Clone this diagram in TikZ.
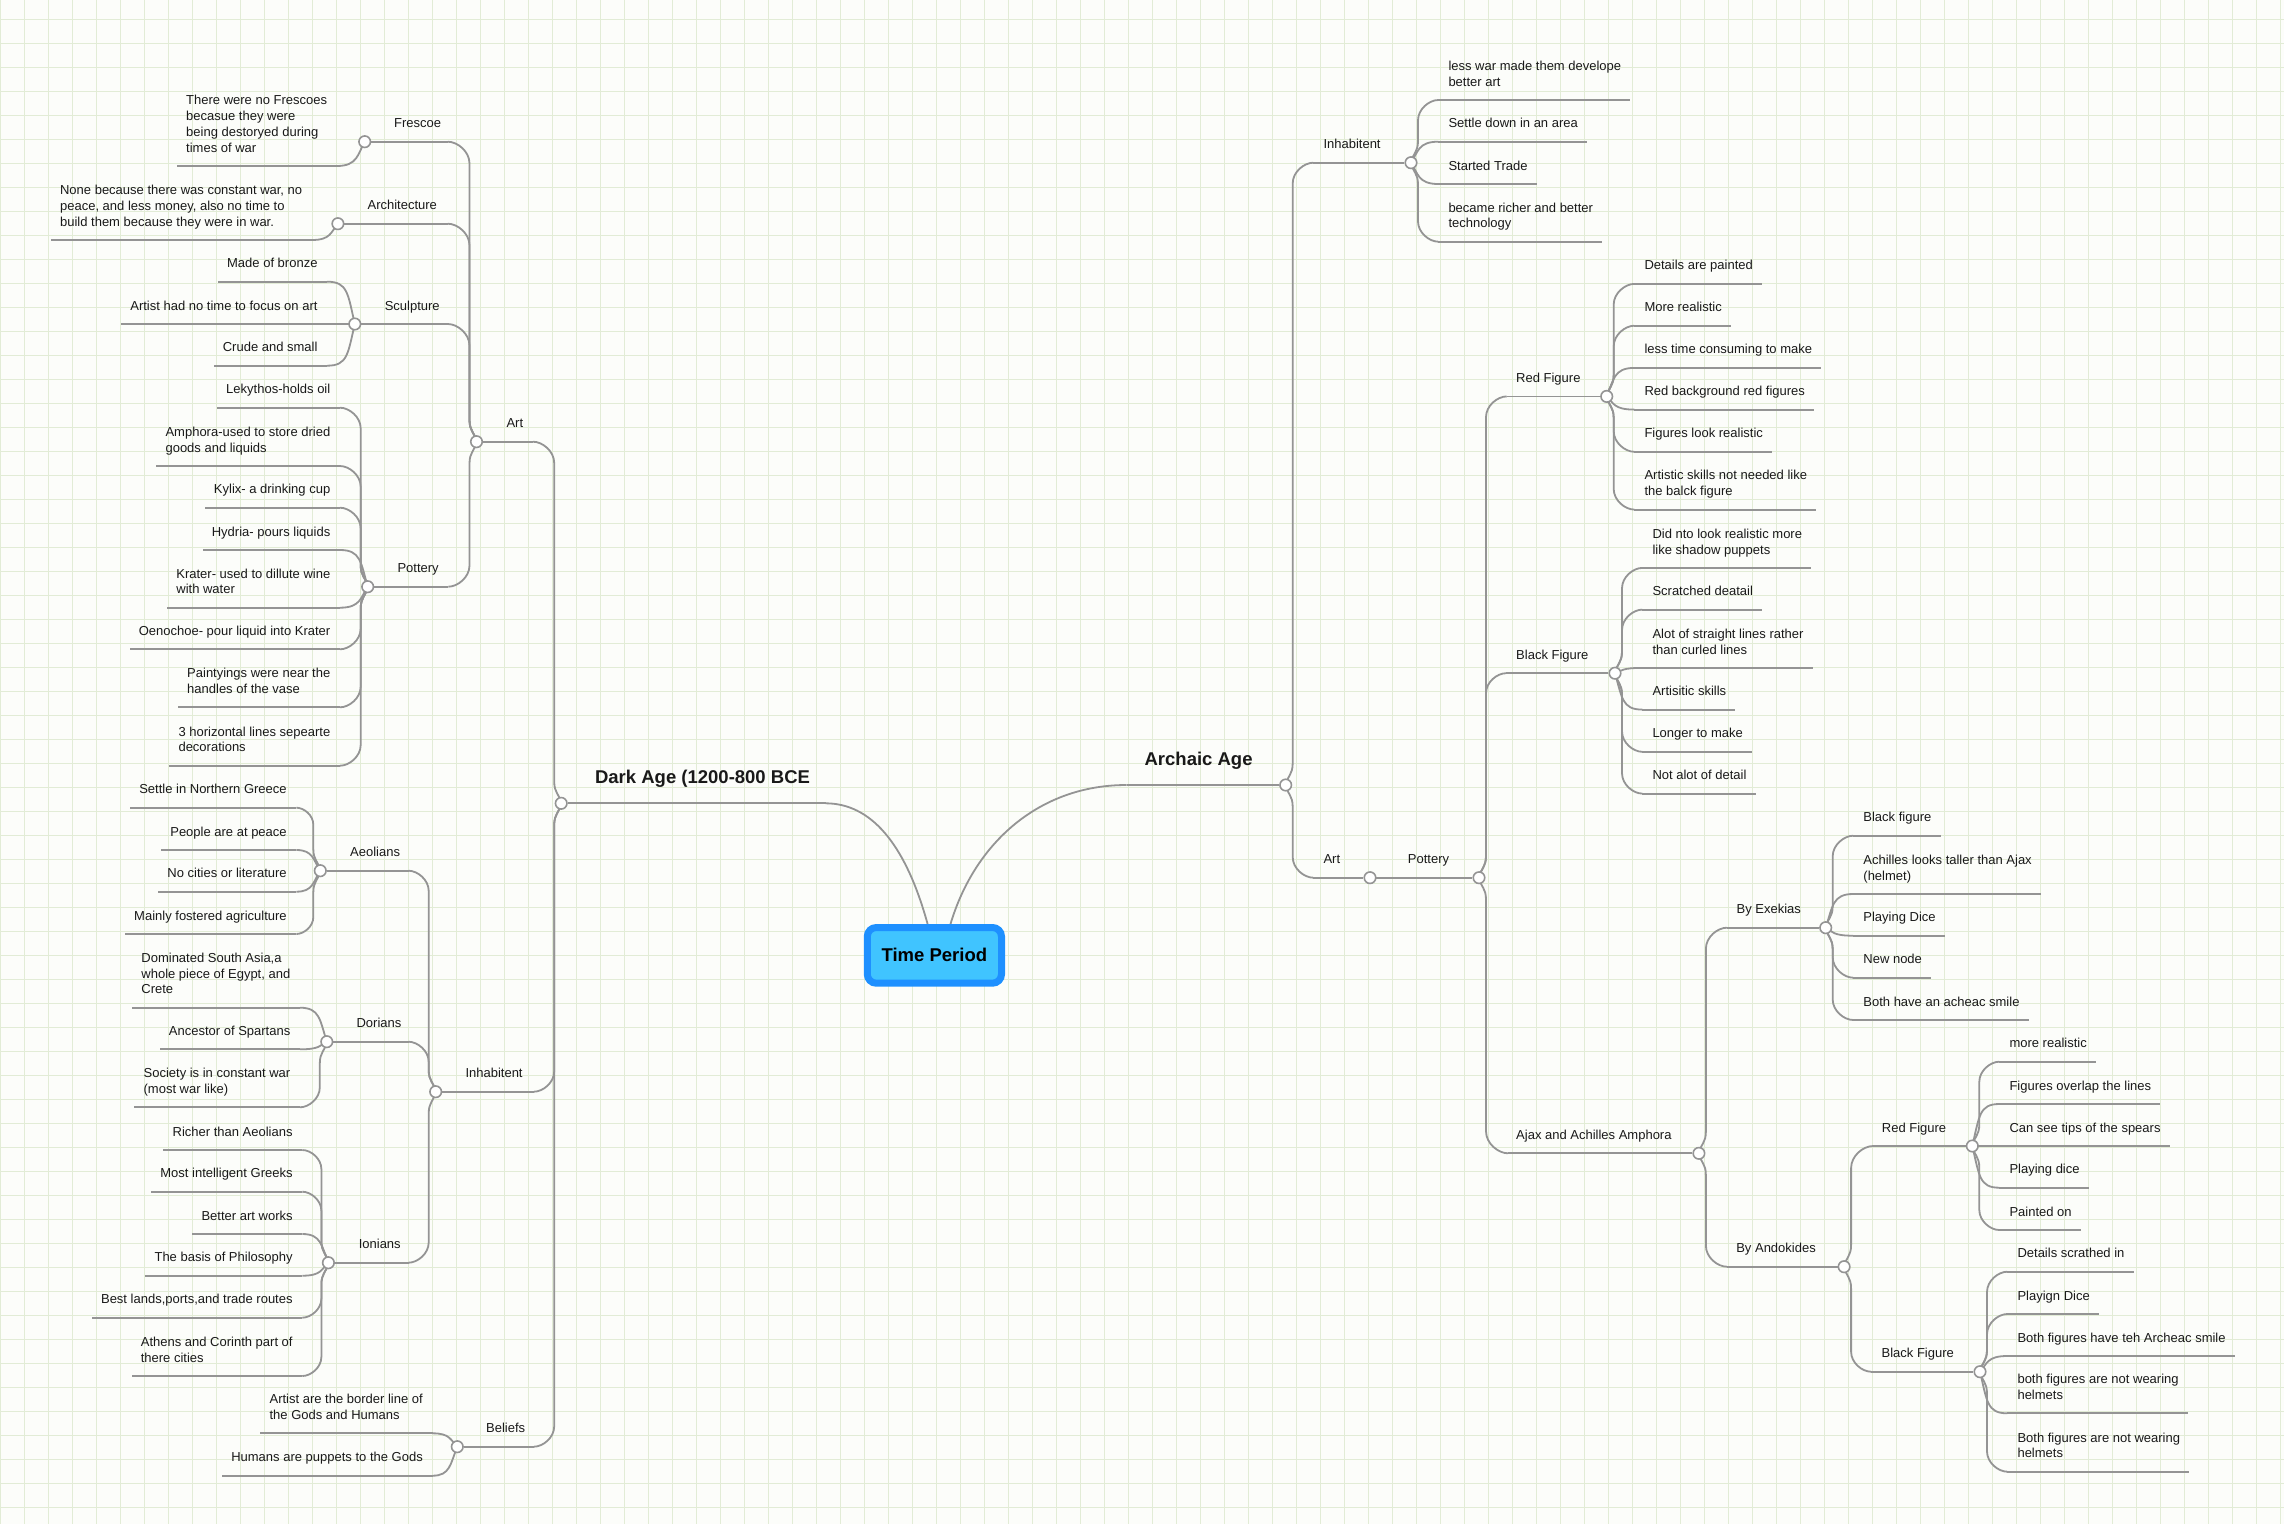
\documentclass[tikz,border=0pt]{standalone}
\usepackage{fontspec}
\setmainfont{Liberation Sans}
\usetikzlibrary{calc}
\pgfdeclarelayer{grid}\pgfdeclarelayer{lines}
\pgfsetlayers{grid,lines,main}
\definecolor{lgray}{RGB}{148,148,148}
\definecolor{gridc}{RGB}{226,236,214}
\definecolor{bgc}{RGB}{252,253,250}
\definecolor{tpborder}{RGB}{30,144,255}
\definecolor{tpfill}{RGB}{64,196,255}
\definecolor{txt}{RGB}{25,25,25}
\newcommand\fsN{\fontsize{13}{15.7}\selectfont}
\newcommand\fsT{\fontsize{18.5}{22}\selectfont\bfseries}
\newdimen\cnDa \newdimen\cnDb \newdimen\cnDc \newdimen\cnDd
\newcommand\conn[2]{%
  \pgfextractx{\cnDa}{\pgfpointanchor{#1}{center}}%
  \pgfextracty{\cnDb}{\pgfpointanchor{#1}{center}}%
  \pgfextractx{\cnDc}{\pgfpointanchor{#2}{center}}%
  \pgfextracty{\cnDd}{\pgfpointanchor{#2}{center}}%
  \pgfmathsetmacro\cnPx{\cnDa}%
  \pgfmathsetmacro\cnPy{\cnDb}%
  \pgfmathsetmacro\cnEx{\cnDc}%
  \pgfmathsetmacro\cnEy{\cnDd}%
  \pgfmathsetmacro\cnSx{(\cnEx>\cnPx)?1:-1}%
  \pgfmathsetmacro\cnH{\cnEy-\cnPy}%
  \pgfmathsetmacro\cnSy{(\cnH>0)?1:-1}%
  \pgfmathsetmacro\cnAh{abs(\cnH)}%
  \pgfmathsetmacro\cnVx{\cnPx+(\cnSx)*7}%
  \begin{pgfonlayer}{lines}%
  \ifdim\cnAh pt<50pt
    \pgfmathsetmacro\cnM{min(\cnAh/2,12)}%
    \pgfmathsetmacro\cnCy{\cnEy-(\cnSy)*\cnM}%
    \draw[conn] (#1.center) .. controls (\cnVx pt,\cnCy pt) and (\cnVx pt,\cnEy pt) .. (#2);
  \else
    \pgfmathsetmacro\cnR{abs(\cnEx-\cnVx)}%
    \pgfmathsetmacro\cnAx{\cnPx+(\cnSx)*2}%
    \pgfmathsetmacro\cnAy{\cnPy+(\cnSy)*10}%
    \pgfmathsetmacro\cnBy{\cnPy+(\cnSy)*22}%
    \pgfmathsetmacro\cnDy{\cnEy-(\cnSy)*\cnR}%
    \pgfmathsetmacro\cnFy{\cnEy-(\cnSy)*0.45*\cnR}%
    \pgfmathsetmacro\cnFx{\cnEx-(\cnSx)*0.45*\cnR}%
    \draw[conn] (#1.center) .. controls (\cnAx pt,\cnAy pt) and (\cnVx pt,\cnAy pt) .. (\cnVx pt,\cnBy pt) -- (\cnVx pt,\cnDy pt) .. controls (\cnVx pt,\cnFy pt) and (\cnFx pt,\cnEy pt) .. (#2);
  \fi
  \end{pgfonlayer}%
}
% parent, name, Ex, yU, text
\newcommand\leafL[5]{%
  \coordinate (#2-e) at (#3,#4);
  \node[leafl] (#2) at ({#3-9.5},{#4-9}) {#5\strut};
  \begin{pgfonlayer}{lines}\draw[uline] (#2-e) -- ([shift={(-9,9)}]#2.south west);\end{pgfonlayer}%
  \conn{#1-k}{#2-e}%
}
\newcommand\leafR[5]{%
  \coordinate (#2-e) at (#3,#4);
  \node[leafr] (#2) at ({#3+10},{#4-9}) {#5\strut};
  \begin{pgfonlayer}{lines}\draw[uline] (#2-e) -- ([shift={(9,9)}]#2.south east);\end{pgfonlayer}%
  \conn{#1-k}{#2-e}%
}
% parent, name, knob x, E x, yU, text x, text
\newcommand\topic[7]{%
  \node[knob] (#2-k) at (#3,#5) {};
  \coordinate (#2-e) at (#4,#5);
  \node[leafr] (#2) at (#6,{#5-9}) {#7\strut};
  \begin{pgfonlayer}{lines}\draw[uline] (#2-k) -- (#2-e);\end{pgfonlayer}%
  \conn{#1-k}{#2-e}%
}
\begin{document}
\begin{tikzpicture}[x=1pt,y=-1pt,
  conn/.style={draw=lgray, line width=1.8pt},
  uline/.style={draw=lgray, line width=1.8pt},
  knob/.style={circle, draw=lgray, fill=white, line width=1.6pt, minimum size=11.5pt, inner sep=0pt},
  leafl/.style={anchor=south east, inner sep=0pt, align=left, font=\fsN, text=txt},
  leafr/.style={anchor=south west, inner sep=0pt, align=left, font=\fsN, text=txt},
  ttitle/.style={anchor=base west, inner sep=0pt, font=\fsT, text=txt}]
\useasboundingbox (0,0) rectangle (2284,1524);
\begin{pgfonlayer}{grid}
  \fill[bgc] (0,0) rectangle (2284,1524);
  \foreach \i in {0,...,95} \draw[gridc, line width=1pt] ({0.7+24*\i},0) -- ({0.7+24*\i},1524);
  \foreach \j in {0,...,62} \draw[gridc, line width=1pt] (0,{19.3+24*\j}) -- (2284,{19.3+24*\j});
\end{pgfonlayer}

% root
\node[draw=tpborder, fill=tpfill, line width=7pt, rounded corners=9pt, minimum width=134.2pt, minimum height=55.7pt, inner sep=0pt, font=\fsT, text=black] (root) at (934.4,955.35) {Time Period};

% main topics
\node[knob] (dark-k) at (561.2,803.3) {};
\coordinate (dark-e) at (825.5,803.3);
\node[ttitle] (dark) at (594.9,783.9) {Dark Age (1200-800 BCE};
\node[knob] (archaic-k) at (1285.7,785) {};
\coordinate (archaic-e) at (1126.5,785);
\node[ttitle] (archaic) at (1144.4,765.6) {Archaic Age};
\begin{pgfonlayer}{lines}
  \draw[uline] (dark-k) -- (dark-e);
  \draw[uline] (archaic-e) -- (archaic-k);
  \draw[conn] ([xshift=-6.8pt]root.north) .. controls +(-22.6,-82) and +(44.5,0) .. (dark-e);
  \draw[conn] ([xshift=16.1pt]root.north) .. controls +(24.5,-82) and +(-86.5,0) .. (archaic-e);
\end{pgfonlayer}

% ---------- left: Dark Age ----------
\topic{dark}{artL}{476.5}{533}{441.7}{506.3}{Art}
\topic{artL}{fre}{364.7}{447.8}{141.7}{394}{Frescoe}
\leafL{fre}{fre1}{336.8}{166}{There were no Frescoes\\becasue they were\\being destoryed during\\times of war}
\topic{artL}{archi}{337.9}{447.8}{223.7}{367.4}{Architecture}
\leafL{archi}{archi1}{311.9}{240}{None because there was constant war, no\\peace, and less money, also no time to\\build them because they were in war.}
\topic{artL}{scu}{354.8}{447.8}{324}{384.6}{Sculpture}
\leafL{scu}{scu1}{327.2}{281.7}{Made of bronze}
\leafL{scu}{scu2}{327.2}{324}{Artist had no time to focus on art}
\leafL{scu}{scu3}{327.2}{365.7}{Crude and small}
\topic{artL}{potL}{367.7}{448.3}{586.7}{397.3}{Pottery}
\leafL{potL}{pl1}{340}{407.7}{Lekythos-holds oil}
\leafL{potL}{pl2}{340}{466}{Amphora-used to store dried\\goods and liquids}
\leafL{potL}{pl3}{340}{507.7}{Kylix- a drinking cup}
\leafL{potL}{pl4}{340}{550}{Hydria- pours liquids}
\leafL{potL}{pl5}{340}{607.7}{Krater- used to dillute wine\\with water}
\leafL{potL}{pl6}{340}{649.3}{Oenochoe- pour liquid into Krater}
\leafL{potL}{pl7}{340}{707.3}{Paintyings were near the\\handles of the vase}
\leafL{potL}{pl8}{340}{765.7}{3 horizontal lines sepearte\\decorations}
\topic{dark}{inhL}{435.7}{533.9}{1091.7}{465.3}{Inhabitent}
\topic{inhL}{aeo}{320.3}{408.5}{870.7}{350}{Aeolians}
\leafL{aeo}{ae1}{296.4}{807.7}{Settle in Northern Greece}
\leafL{aeo}{ae2}{296.4}{850}{People are at peace}
\leafL{aeo}{ae3}{296.4}{891.7}{No cities or literature}
\leafL{aeo}{ae4}{296.4}{934}{Mainly fostered agriculture}
\topic{inhL}{dor}{326.8}{408.5}{1041.7}{356.4}{Dorians}
\leafL{dor}{do1}{300}{1007.7}{Dominated South Asia,a\\whole piece of Egypt, and\\Crete}
\leafL{dor}{do2}{300}{1049.3}{Ancestor of Spartans}
\leafL{dor}{do3}{300}{1107.3}{Society is in constant war\\(most war like)}
\topic{inhL}{ion}{328.4}{408.5}{1262.7}{358.6}{Ionians}
\leafL{ion}{io1}{302.3}{1150}{Richer than Aeolians}
\leafL{ion}{io2}{302.3}{1191.7}{Most intelligent Greeks}
\leafL{ion}{io3}{302.3}{1234}{Better art works}
\leafL{ion}{io4}{302.3}{1275.7}{The basis of Philosophy}
\leafL{ion}{io5}{302.3}{1317.7}{Best lands,ports,and trade routes}
\leafL{ion}{io6}{302.3}{1376}{Athens and Corinth part of\\there cities}
\topic{dark}{bel}{457.3}{533.9}{1446.7}{486}{Beliefs}
\leafL{bel}{be1}{432.5}{1433.3}{Artist are the border line of\\the Gods and Humans}
\leafL{bel}{be2}{432.5}{1475.7}{Humans are puppets to the Gods}

% ---------- right: Archaic Age ----------
\topic{archaic}{inhR}{1411}{1313.3}{162.7}{1323.3}{Inhabitent}
\leafR{inhR}{ir1}{1438.3}{100}{less war made them develope\\better art}
\leafR{inhR}{ir2}{1438.3}{141.7}{Settle down in an area}
\leafR{inhR}{ir3}{1438.3}{184}{Started Trade}
\leafR{inhR}{ir4}{1438.3}{241.7}{became richer and better\\technology}
\topic{archaic}{artR}{1370}{1313.3}{877.7}{1323.3}{Art}
\topic{artR}{potR}{1479}{1382}{877.7}{1407.7}{Pottery}
\topic{potR}{rf}{1606.7}{1506.7}{396.4}{1516}{Red Figure}
\leafR{rf}{rf1}{1634.3}{283.9}{Details are painted}
\leafR{rf}{rf2}{1634.3}{325.7}{More realistic}
\leafR{rf}{rf3}{1634.3}{367.9}{less time consuming to make}
\leafR{rf}{rf4}{1634.3}{409.6}{Red background red figures}
\leafR{rf}{rf5}{1634.3}{451.8}{Figures look realistic}
\leafR{rf}{rf6}{1634.3}{509.6}{Artistic skills not needed like\\the balck figure}
\topic{potR}{bf}{1615}{1506}{673.2}{1516}{Black Figure}
\leafR{bf}{bf1}{1642.3}{567.9}{Did nto look realistic more\\like shadow puppets}
\leafR{bf}{bf2}{1642.3}{609.6}{Scratched deatail}
\leafR{bf}{bf3}{1642.3}{667.9}{Alot of straight lines rather\\than curled lines}
\leafR{bf}{bf4}{1642.3}{709.6}{Artisitic skills}
\leafR{bf}{bf5}{1642.3}{751.8}{Longer to make}
\leafR{bf}{bf6}{1642.3}{793.6}{Not alot of detail}
\topic{potR}{ajax}{1698.9}{1508}{1153.3}{1516}{Ajax and Achilles Amphora}
\topic{ajax}{exe}{1825.7}{1726.8}{927.7}{1736.4}{By Exekias}
\leafR{exe}{ex1}{1853.2}{835.7}{Black figure}
\leafR{exe}{ex2}{1853.2}{894}{Achilles looks taller than Ajax\\(helmet)}
\leafR{exe}{ex3}{1853.2}{935.7}{Playing Dice}
\leafR{exe}{ex4}{1853.2}{977.7}{New node}
\leafR{exe}{ex5}{1853.2}{1020}{Both have an acheac smile}
\topic{ajax}{ando}{1844.1}{1726.8}{1266.7}{1736.1}{By Andokides}
\topic{ando}{arf}{1972.3}{1873}{1146}{1881.7}{Red Figure}
\leafR{arf}{ar1}{1999.3}{1061.7}{more realistic}
\leafR{arf}{ar2}{1999.3}{1104}{Figures overlap the lines}
\leafR{arf}{ar3}{1999.3}{1146}{Can see tips of the spears}
\leafR{arf}{ar4}{1999.3}{1187.7}{Playing dice}
\leafR{arf}{ar5}{1999.3}{1230}{Painted on}
\topic{ando}{abf}{1980}{1871}{1371.7}{1881.4}{Black Figure}
\leafR{abf}{ab1}{2007.3}{1271.7}{Details scrathed in}
\leafR{abf}{ab2}{2007.3}{1314}{Playign Dice}
\leafR{abf}{ab3}{2007.3}{1356}{Both figures have teh Archeac smile}
\leafR{abf}{ab4}{2007.3}{1413.3}{both figures are not wearing\\helmets}
\leafR{abf}{ab5}{2007.3}{1471.7}{Both figures are not wearing\\helmets}
\end{tikzpicture}
\end{document}
